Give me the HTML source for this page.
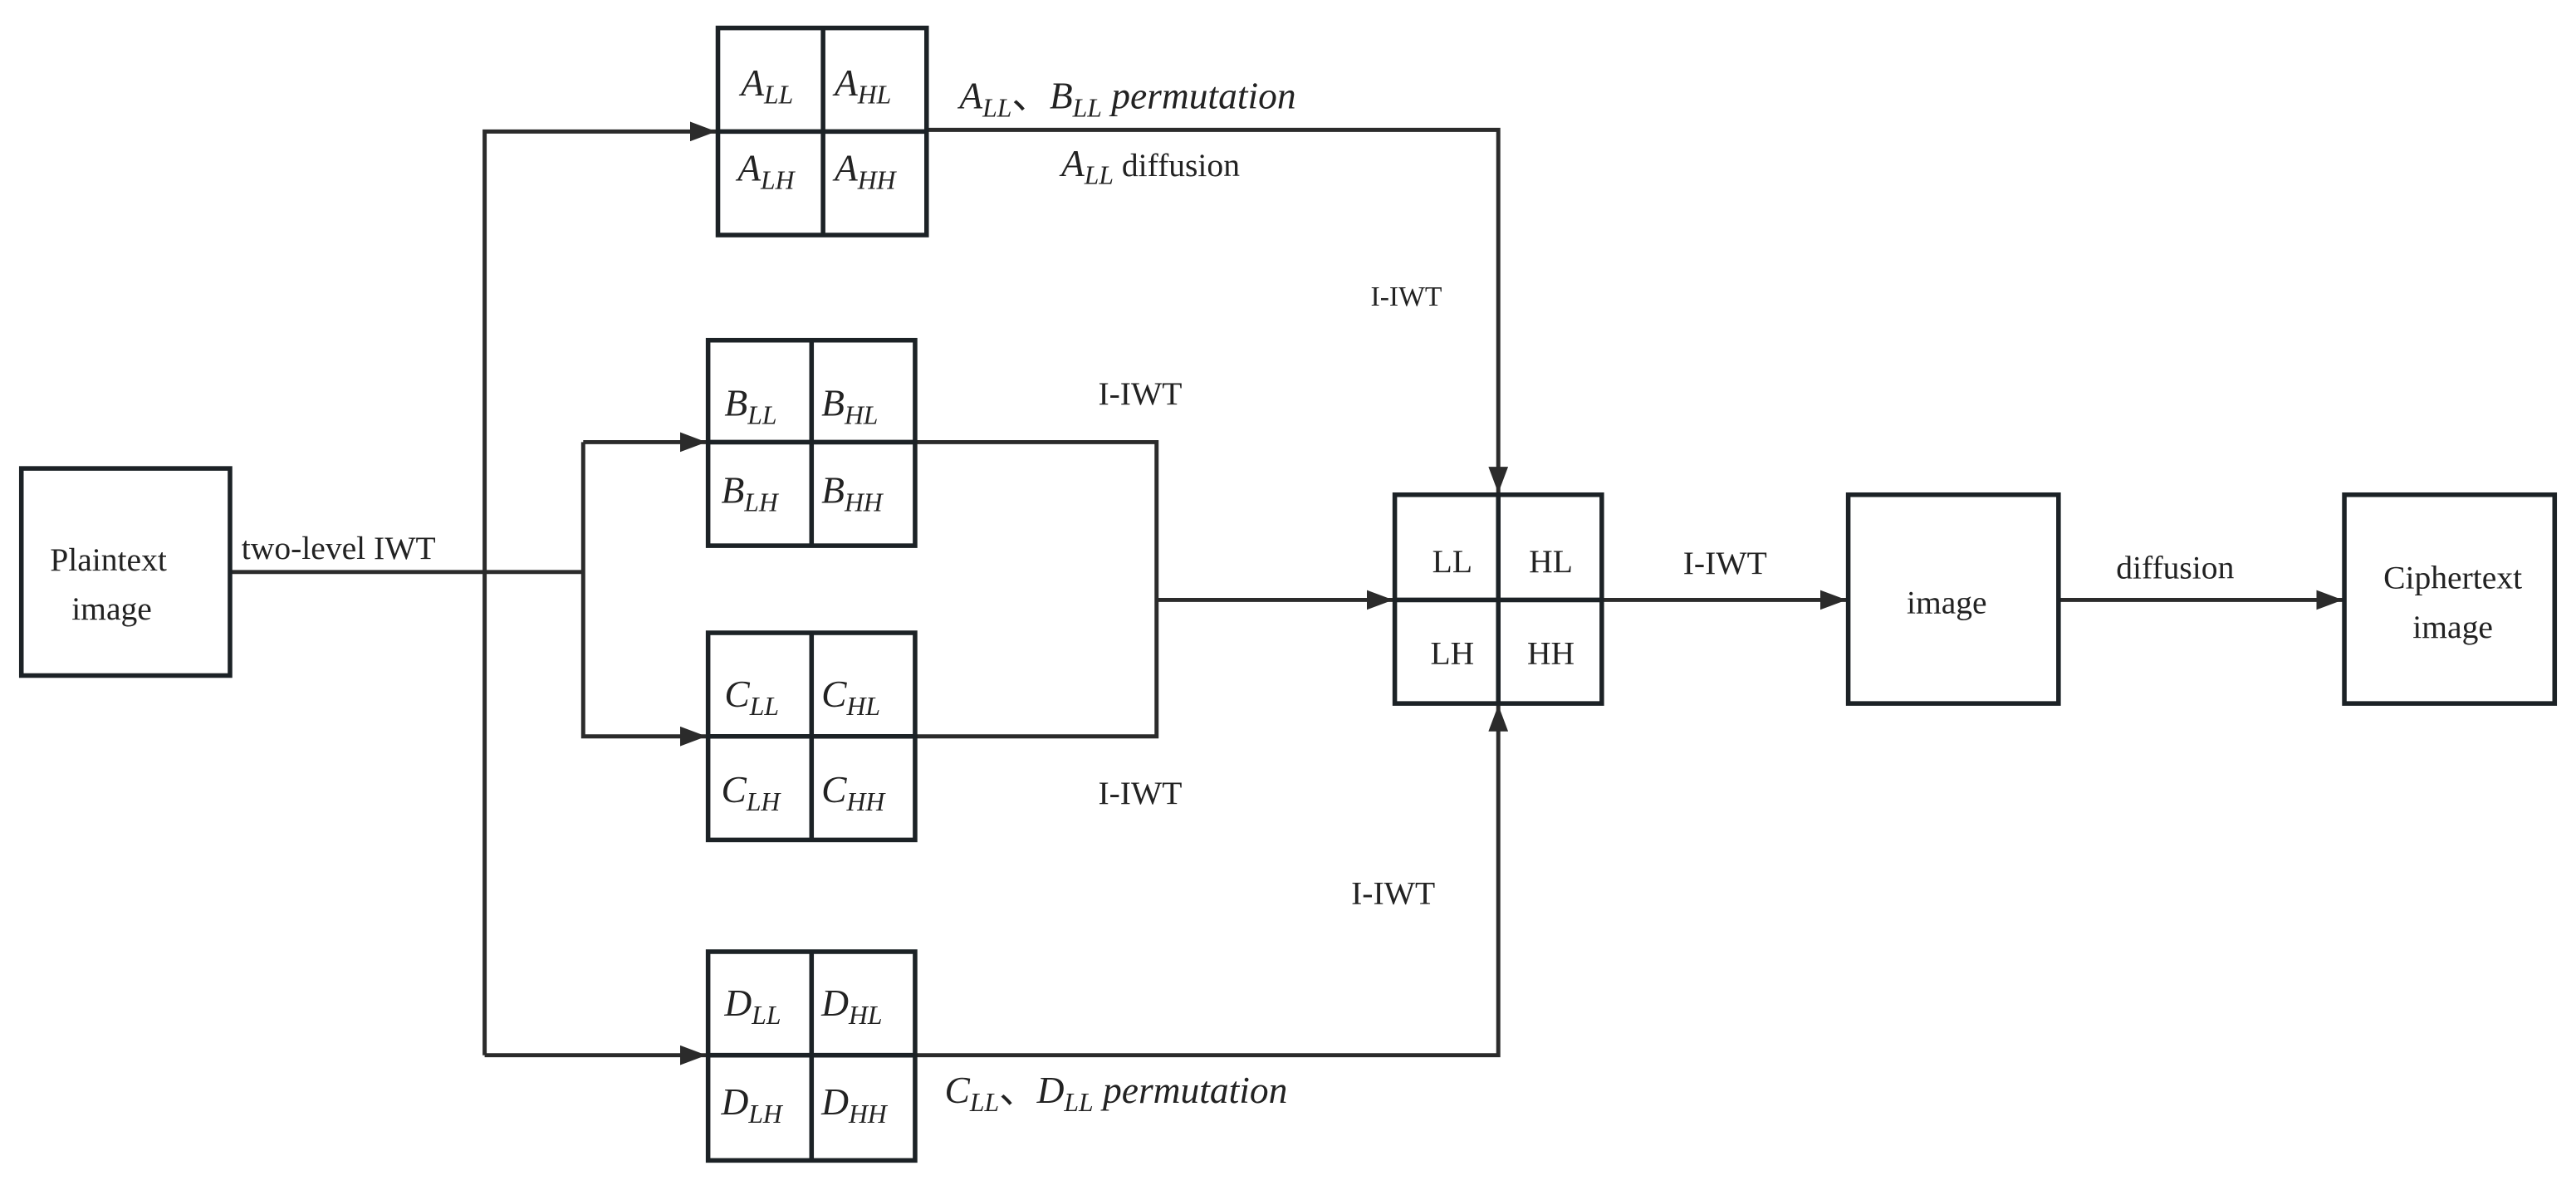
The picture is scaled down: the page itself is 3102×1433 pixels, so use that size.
<!DOCTYPE html>
<html><head><meta charset="utf-8"><style>
html,body{margin:0;padding:0;background:#fff;width:3102px;height:1433px;overflow:hidden}
svg{display:block}
svg text{font-family:'Liberation Serif','Times New Roman',Times,serif;fill:#222}
.m{font-style:italic;font-size:23px}
.s{font-size:16px}
.t{font-size:20px}
</style></head><body>
<svg width="3102" height="1433" viewBox="0 0 1568 724" preserveAspectRatio="none" font-family="Liberation Serif, serif">
<defs><marker id="b" viewBox="0 0 16 12" refX="16" refY="6" markerWidth="16" markerHeight="12" markerUnits="userSpaceOnUse" orient="auto"><path d="M0,0L16,6L0,12z" fill="#2b2b2b"/></marker></defs>
<g stroke="#2b2b2b" stroke-width="2.5" fill="none">
<path d="M140 348H355"/>
<path d="M295 642V80H436" marker-end="url(#b)"/>
<path d="M295 642H430" marker-end="url(#b)"/>
<path d="M355 269V448H430" marker-end="url(#b)"/>
<path d="M355 269H430" marker-end="url(#b)"/>
<path d="M564 79H912V300" marker-end="url(#b)"/>
<path d="M557 269H704V448H557"/>
<path d="M704 365H848" marker-end="url(#b)"/>
<path d="M557 642H912V429" marker-end="url(#b)"/>
<path d="M975 365H1124" marker-end="url(#b)"/>
<path d="M1253 365H1426" marker-end="url(#b)"/>
</g>
<g stroke="#1c2226" stroke-width="2.8" fill="none">
<rect x="13" y="285" width="127" height="126"/>
<rect x="437" y="17" width="127" height="126"/><path d="M501 17V143M437 80H564"/>
<rect x="431" y="207" width="126" height="125"/><path d="M494 207V332M431 269H557"/>
<rect x="431" y="385" width="126" height="126"/><path d="M494 385V511M431 448H557"/>
<rect x="431" y="579" width="126" height="127"/><path d="M494 579V706M431 642H557"/>
<rect x="849" y="301" width="126" height="127"/><path d="M912 301V428M849 365H975"/>
<rect x="1125" y="301" width="128" height="127"/>
<rect x="1427" y="301" width="128" height="127"/>
</g>
<g class="t" text-anchor="middle">
<text x="66" y="347">Plaintext</text><text x="68" y="377">image</text>
<text x="884" y="348">LL</text><text x="944" y="348">HL</text>
<text x="884" y="404">LH</text><text x="944" y="404">HH</text>
<text x="1185" y="373">image</text>
<text x="1493" y="358">Ciphertext</text><text x="1493" y="388">image</text>
<text x="1050" y="349">I-IWT</text>
<text x="1324" y="352">diffusion</text>
<text x="694" y="246">I-IWT</text>
<text x="694" y="489">I-IWT</text>
<text x="848" y="550">I-IWT</text>
<text x="856" y="186" style="font-size:17px">I-IWT</text>
</g>
<text x="147" y="340" class="t">two-level IWT</text>
<g class="m">
<text x="451" y="58">A<tspan class="s" dy="5">LL</tspan></text>
<text x="508" y="58">A<tspan class="s" dy="5">HL</tspan></text>
<text x="449" y="110">A<tspan class="s" dy="5">LH</tspan></text>
<text x="508" y="110">A<tspan class="s" dy="5">HH</tspan></text>
<text x="441" y="253">B<tspan class="s" dy="5">LL</tspan></text>
<text x="500" y="253">B<tspan class="s" dy="5">HL</tspan></text>
<text x="439" y="306">B<tspan class="s" dy="5">LH</tspan></text>
<text x="500" y="306">B<tspan class="s" dy="5">HH</tspan></text>
<text x="441" y="430">C<tspan class="s" dy="5">LL</tspan></text>
<text x="500" y="430">C<tspan class="s" dy="5">HL</tspan></text>
<text x="439" y="488">C<tspan class="s" dy="5">LH</tspan></text>
<text x="500" y="488">C<tspan class="s" dy="5">HH</tspan></text>
<text x="441" y="618">D<tspan class="s" dy="5">LL</tspan></text>
<text x="500" y="618">D<tspan class="s" dy="5">HL</tspan></text>
<text x="439" y="678">D<tspan class="s" dy="5">LH</tspan></text>
<text x="500" y="678">D<tspan class="s" dy="5">HH</tspan></text>
<text x="584" y="66">A<tspan class="s" dy="5">LL</tspan><tspan dy="-5" style="font-style:normal">、</tspan>B<tspan class="s" dy="5">LL</tspan><tspan dy="-5"> permutation</tspan></text>
<text x="646" y="107">A<tspan class="s" dy="5">LL</tspan><tspan dy="-5" style="font-style:normal;font-size:20px"> diffusion</tspan></text>
<text x="575" y="671">C<tspan class="s" dy="5">LL</tspan><tspan dy="-5" style="font-style:normal">、</tspan>D<tspan class="s" dy="5">LL</tspan><tspan dy="-5">  permutation</tspan></text>
</g>
</svg>
</body></html>
